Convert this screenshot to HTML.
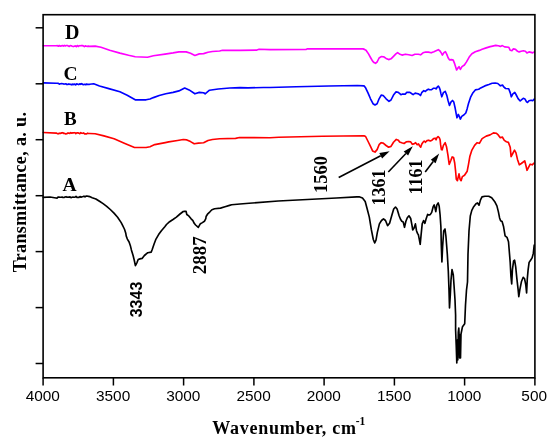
<!DOCTYPE html>
<html><head><meta charset="utf-8"><style>
html,body{margin:0;padding:0;background:#fff;}
svg{display:block;}
.tl{font-family:"Liberation Sans",Arial,sans-serif;font-size:15px;text-anchor:middle;fill:#000;font-size:15.4px;}
.ax{font-family:"Liberation Serif","Times New Roman",serif;font-weight:bold;font-size:18px;letter-spacing:0.72px;fill:#000;}
.sup{font-size:11.5px;letter-spacing:0;}
.ay{font-family:"Liberation Serif","Times New Roman",serif;font-weight:bold;font-size:18px;letter-spacing:0.37px;fill:#000;}
.cl{font-family:"Liberation Serif","Times New Roman",serif;font-weight:bold;font-size:20px;fill:#000;}
.pl{font-family:"Liberation Serif","Times New Roman",serif;font-weight:bold;font-size:18.5px;fill:#000;}
.pa{font-family:"Liberation Sans",Arial,sans-serif;font-weight:bold;font-size:16px;fill:#000;}
</style></head><body>
<svg width="550" height="442" viewBox="0 0 550 442">
<rect x="0" y="0" width="550" height="442" fill="#fff"/>
<polyline points="43.3,45.7 56.3,45.8 57.3,45.6 58.3,46.2 59.3,45.5 60.3,46.1 61.3,45.9 62.3,45.5 63.3,46.1 64.3,45.4 65.3,46.0 66.3,45.5 67.3,45.5 68.3,46.0 69.3,46.5 70.3,45.6 71.3,45.7 72.3,46.2 73.3,46.6 74.3,46.2 75.3,45.9 76.3,46.7 77.3,45.5 78.3,46.5 79.3,45.7 80.3,45.8 81.3,45.6 82.3,45.6 83.3,45.9 84.3,46.6 85.3,45.8 86.3,46.3 87.3,46.4 88.3,46.1 89.3,46.4 95.2,46.1 101.0,47.3 109.7,50.2 119.9,53.1 128.6,55.3 135.2,56.7 147.5,57.2 153.4,55.7 165.0,54.1 173.1,52.9 178.9,51.9 186.2,51.9 190.5,53.3 194.9,55.5 199.3,53.9 203.6,53.6 208.0,52.2 212.4,51.5 219.6,51.0 222.5,50.3 240.0,50.3 256.9,50.1 259.1,49.2 270.0,49.6 306.0,49.5 307.1,48.9 363.0,48.9 364.5,49.4 366.0,50.2 368.5,53.9 370.5,57.5 372.6,61.2 374.0,62.6 375.5,63.3 377.1,62.0 379.1,58.0 381.2,56.6 383.6,56.7 386.1,58.4 388.6,59.6 391.0,58.8 393.5,56.3 395.9,53.9 397.6,52.6 400.0,54.3 402.0,55.1 405.4,54.2 408.8,54.8 412.1,55.5 414.9,54.2 418.3,54.2 420.6,54.8 423.0,52.8 425.7,52.0 428.4,52.1 431.2,52.8 433.9,51.7 436.6,50.4 438.3,49.7 440.0,51.0 441.4,53.1 442.4,55.1 444.1,52.4 445.4,51.7 446.8,54.4 448.1,57.8 449.5,59.9 451.5,59.6 453.2,60.1 454.7,63.9 455.6,66.7 456.6,70.0 457.9,68.0 459.0,66.7 460.4,69.4 462.0,66.7 464.4,65.0 466.5,61.9 469.2,57.1 471.9,53.8 475.3,51.7 479.4,50.4 482.1,49.3 486.2,47.9 490.2,46.6 492.6,46.1 495.7,45.4 498.3,45.8 500.4,46.4 502.3,45.6 504.6,46.9 508.7,47.2 510.3,50.3 511.9,50.6 513.4,48.9 515.5,49.3 517.6,51.3 519.1,51.9 521.2,51.3 523.3,50.8 525.4,51.3 526.9,52.9 529.0,51.9 531.1,52.4 532.7,52.9 534.2,51.9" fill="none" stroke="#ff00ff" stroke-width="1.65" stroke-linejoin="round" stroke-linecap="round"/>
<polyline points="43.3,82.9 56.3,83.2 57.3,83.2 58.3,83.4 59.3,84.1 60.3,83.8 61.8,83.6 62.8,83.7 63.8,84.1 64.8,84.0 65.8,83.8 66.8,84.5 67.8,84.4 68.8,83.9 69.8,84.3 70.8,84.3 71.8,84.8 72.7,84.0 73.7,84.6 74.7,84.1 75.7,84.9 76.7,83.8 77.7,84.2 78.7,84.6 79.7,83.8 80.7,84.3 81.7,83.7 82.7,84.5 83.7,84.6 84.7,84.3 85.7,84.7 86.7,84.0 87.7,84.5 88.7,84.3 89.7,84.3 93.7,83.8 99.5,86.0 109.7,88.9 119.9,91.8 127.2,95.2 135.2,99.8 146.1,99.8 150.0,99.0 153.4,97.6 159.2,95.5 165.8,93.8 173.1,92.4 178.9,90.9 184.7,88.0 189.1,89.9 194.9,93.8 199.3,92.4 203.6,92.8 205.1,93.8 209.5,90.2 218.2,89.0 229.8,88.0 240.0,87.6 248.2,87.9 263.5,87.5 270.0,87.5 296.2,86.8 328.9,86.0 357.3,85.5 364.0,85.9 365.6,87.8 368.1,93.1 370.5,98.8 373.0,103.7 375.0,105.0 377.1,103.7 379.1,98.8 381.2,95.1 383.2,95.5 386.1,98.8 389.0,101.3 391.0,100.0 393.5,95.1 395.9,91.9 398.0,92.3 399.2,93.1 400.9,94.7 402.5,94.1 405.4,94.1 406.6,92.4 409.9,92.4 411.5,93.5 413.1,94.6 415.2,93.1 416.8,93.5 418.5,93.9 419.7,94.7 420.5,95.5 421.7,92.7 423.8,90.6 425.4,91.5 426.6,90.2 428.3,89.2 429.9,89.8 431.6,89.7 433.6,88.2 435.2,88.2 436.1,89.0 437.3,87.0 438.3,86.1 439.3,87.4 440.1,89.8 441.0,93.9 441.8,96.8 443.4,92.6 445.2,91.3 446.8,95.4 448.1,100.8 449.5,105.5 450.9,102.1 452.5,100.5 453.8,102.1 455.2,108.3 456.3,114.4 457.0,117.8 458.3,114.4 459.0,115.7 460.4,119.1 461.7,116.4 463.8,115.0 465.8,113.0 467.1,108.9 468.5,103.5 470.5,97.4 472.6,93.3 475.3,89.9 478.7,89.3 480.7,87.9 484.8,85.9 488.9,84.5 492.1,83.3 495.2,83.0 497.8,83.5 500.4,85.8 502.5,85.1 504.0,87.2 505.6,88.5 508.7,88.7 510.3,92.9 511.3,96.8 512.9,93.9 514.8,92.4 516.0,94.5 518.1,98.6 520.2,101.0 521.7,99.7 523.3,98.3 524.9,98.9 526.4,101.7 527.5,102.5 529.0,100.7 531.1,100.2 532.7,100.7 534.2,99.1" fill="none" stroke="#0000ff" stroke-width="1.65" stroke-linejoin="round" stroke-linecap="round"/>
<polyline points="43.3,132.5 56.3,133.1 57.3,133.6 58.3,133.8 59.3,133.2 60.3,133.4 61.8,132.9 62.8,132.7 63.8,133.5 64.8,133.4 65.8,133.9 66.8,133.7 67.8,133.0 68.8,133.1 69.8,133.5 70.8,132.6 71.8,133.2 72.8,132.8 73.8,132.8 74.8,132.7 75.8,133.6 76.8,132.8 77.8,132.9 78.8,133.1 79.8,133.7 80.8,132.7 81.8,133.2 82.8,133.3 83.6,132.9 84.6,133.8 85.6,133.8 86.6,133.9 87.6,133.2 88.6,133.5 89.6,133.5 95.2,133.7 103.9,135.9 114.1,138.8 124.3,143.2 134.5,147.5 146.1,147.5 150.0,146.7 154.8,144.6 165.3,142.6 168.7,141.9 177.5,140.5 183.3,139.5 186.9,139.9 190.5,141.6 194.2,143.8 198.5,143.1 203.6,142.8 208.0,140.5 212.4,139.5 219.6,138.7 235.6,138.4 239.5,137.5 270.0,137.7 278.7,137.3 322.4,136.2 364.0,135.7 365.6,136.5 368.1,141.5 370.5,146.4 372.6,150.9 375.0,152.1 377.1,149.6 379.1,144.7 381.2,142.7 383.2,143.1 386.1,145.5 388.6,147.2 391.0,146.4 393.5,142.3 396.3,139.4 398.4,140.2 399.6,141.9 401.7,142.7 404.1,143.5 406.2,141.9 408.6,141.5 410.7,141.9 412.3,144.3 414.0,143.9 415.6,142.7 417.2,144.7 418.5,143.9 419.7,146.0 420.7,147.2 421.7,144.3 423.0,142.3 424.2,141.0 425.4,142.3 427.0,140.6 428.7,140.2 430.3,141.0 432.0,140.2 433.6,138.6 435.2,138.2 436.1,139.8 436.9,137.8 438.1,136.5 439.3,137.8 440.1,139.8 440.6,144.7 441.4,149.6 442.2,149.8 443.4,145.4 445.2,142.7 446.5,146.7 447.9,154.9 449.2,164.4 450.9,160.3 452.2,156.9 453.6,157.6 454.7,163.0 455.6,171.2 456.3,179.3 457.4,180.7 458.3,176.6 459.0,173.9 460.1,179.3 461.1,180.7 462.4,176.6 464.5,175.3 467.2,171.2 468.5,164.4 469.9,156.2 471.9,150.1 474.6,145.4 477.0,142.7 479.4,143.3 482.1,138.6 486.2,136.1 490.1,134.9 493.5,132.9 496.2,133.2 498.2,134.9 500.3,137.7 502.3,137.0 504.3,140.4 506.4,141.7 508.4,142.4 510.2,147.2 511.1,156.7 512.5,154.0 514.5,150.2 515.9,152.6 517.5,159.4 519.3,164.8 521.3,163.5 524.7,160.8 526.1,166.2 527.0,170.3 528.8,166.9 530.2,164.2 532.2,164.8 534.0,163.2" fill="none" stroke="#ff0000" stroke-width="1.65" stroke-linejoin="round" stroke-linecap="round"/>
<polyline points="43.3,197.4 50.0,197.0 56.0,198.0 57.0,198.1 58.0,197.1 59.0,197.1 60.0,197.2 61.0,197.2 62.0,197.1 63.0,197.4 64.0,197.5 65.0,197.0 66.0,196.7 67.0,197.2 68.0,197.1 69.0,197.3 70.0,196.8 71.0,197.7 72.0,197.3 73.0,197.1 74.0,197.2 75.0,197.2 76.0,196.4 77.0,197.5 78.0,197.3 79.0,197.4 80.0,196.5 81.0,197.2 82.0,196.7 83.0,196.6 84.0,196.2 85.0,196.9 86.0,196.1 87.0,196.1 88.0,196.3 88.6,196.3 89.6,196.6 92.2,197.7 95.9,199.0 99.5,201.3 103.1,203.6 106.7,206.3 110.3,209.5 114.0,213.1 117.6,217.2 121.2,222.6 122.6,225.3 123.9,228.0 124.6,229.5 125.7,232.9 126.3,236.3 127.4,239.1 129.1,242.0 130.3,245.4 131.4,249.9 133.1,255.5 134.2,260.0 135.4,265.7 137.1,262.3 138.2,259.5 139.9,258.9 142.1,258.4 144.4,255.5 147.8,252.7 151.2,252.1 152.3,249.3 154.0,244.2 155.7,239.7 158.6,234.6 161.4,230.7 164.8,226.7 166.5,224.5 169.6,221.7 173.0,219.5 176.4,217.1 180.0,214.0 183.2,211.5 184.4,211.3 186.1,211.4 186.8,214.5 188.8,215.9 190.9,218.6 192.9,220.6 194.2,223.3 195.6,225.0 198.3,227.4 200.4,223.7 202.4,222.6 204.4,221.3 205.8,218.6 206.1,216.5 207.8,213.8 209.9,211.8 211.9,209.7 214.6,208.7 220.5,208.1 225.0,206.8 229.5,205.4 231.6,204.7 240.0,204.0 249.1,203.3 278.2,201.0 307.3,199.5 336.4,198.0 356.7,196.9 359.1,196.8 362.5,198.1 365.2,201.5 367.2,209.0 369.3,217.1 371.3,229.4 373.3,239.5 374.7,242.9 376.0,240.2 377.4,232.1 379.4,223.9 381.5,220.5 383.5,218.8 385.5,220.5 387.6,225.6 389.6,223.3 391.7,215.8 393.7,209.0 395.5,207.0 397.1,209.0 399.1,215.8 400.5,219.2 401.8,221.2 403.2,221.9 404.5,227.3 405.9,221.2 407.3,217.8 409.0,215.8 410.7,218.5 412.0,225.3 412.7,230.0 414.1,228.0 415.4,223.9 416.5,230.7 417.5,233.4 418.4,234.8 419.2,238.9 420.2,244.3 421.1,234.8 422.2,223.9 423.6,220.5 424.9,223.3 426.0,219.2 427.6,214.4 429.0,215.1 430.4,214.4 431.7,212.4 433.1,207.0 434.2,204.9 435.1,208.3 435.8,211.7 436.9,204.9 438.2,202.9 439.2,206.3 440.1,215.0 440.9,227.0 441.3,245.0 441.9,262.0 442.6,247.0 443.7,231.0 445.0,229.0 445.9,236.0 447.3,254.0 448.3,271.0 449.0,290.0 449.5,308.0 450.3,295.0 451.0,280.0 452.0,269.5 453.3,275.0 454.0,285.0 455.0,300.0 455.6,315.0 455.6,330.0 456.2,345.0 456.8,363.0 457.3,340.0 457.8,360.0 458.3,332.0 458.8,328.0 459.3,340.0 459.6,358.0 460.0,335.0 460.5,358.0 461.0,334.0 462.5,326.7 464.7,323.8 465.5,305.0 466.5,290.0 467.5,282.0 468.0,254.0 469.0,231.0 470.3,216.0 471.8,210.4 473.7,206.7 476.0,203.7 477.5,202.9 479.0,205.2 480.5,199.9 482.0,196.9 484.9,196.2 488.7,196.2 491.7,197.7 494.6,201.4 496.9,205.9 498.4,211.9 499.6,217.9 500.6,220.8 502.1,221.6 503.6,226.8 505.1,235.8 507.0,237.3 508.5,241.7 509.1,249.0 510.2,262.4 510.9,275.8 511.7,284.0 512.4,269.9 513.6,260.9 514.6,260.2 515.7,266.9 516.9,278.8 518.1,289.3 518.8,296.7 519.9,289.3 521.4,281.8 523.2,277.3 524.6,278.8 525.8,284.8 526.6,293.0 527.3,278.8 528.1,269.9 529.1,262.4 530.6,260.2 532.1,257.9 533.3,253.4 534.2,245.0" fill="none" stroke="#000000" stroke-width="1.65" stroke-linejoin="round" stroke-linecap="round"/>
<rect x="43.1" y="14.7" width="491.8" height="363.1" fill="none" stroke="#000" stroke-width="1.6"/>
<line x1="35.6" y1="27.8" x2="43.1" y2="27.8" stroke="#000" stroke-width="1.5"/>
<line x1="35.6" y1="83.8" x2="43.1" y2="83.8" stroke="#000" stroke-width="1.5"/>
<line x1="35.6" y1="139.7" x2="43.1" y2="139.7" stroke="#000" stroke-width="1.5"/>
<line x1="35.6" y1="195.7" x2="43.1" y2="195.7" stroke="#000" stroke-width="1.5"/>
<line x1="35.6" y1="251.6" x2="43.1" y2="251.6" stroke="#000" stroke-width="1.5"/>
<line x1="35.6" y1="307.6" x2="43.1" y2="307.6" stroke="#000" stroke-width="1.5"/>
<line x1="35.6" y1="363.5" x2="43.1" y2="363.5" stroke="#000" stroke-width="1.5"/>
<line x1="43.1" y1="377.8" x2="43.1" y2="385.5" stroke="#000" stroke-width="1.5"/>
<text x="42.8" y="401.1" class="tl">4000</text>
<line x1="113.4" y1="377.8" x2="113.4" y2="385.5" stroke="#000" stroke-width="1.5"/>
<text x="113.1" y="401.1" class="tl">3500</text>
<line x1="183.6" y1="377.8" x2="183.6" y2="385.5" stroke="#000" stroke-width="1.5"/>
<text x="183.3" y="401.1" class="tl">3000</text>
<line x1="253.9" y1="377.8" x2="253.9" y2="385.5" stroke="#000" stroke-width="1.5"/>
<text x="253.6" y="401.1" class="tl">2500</text>
<line x1="324.1" y1="377.8" x2="324.1" y2="385.5" stroke="#000" stroke-width="1.5"/>
<text x="323.8" y="401.1" class="tl">2000</text>
<line x1="394.4" y1="377.8" x2="394.4" y2="385.5" stroke="#000" stroke-width="1.5"/>
<text x="394.1" y="401.1" class="tl">1500</text>
<line x1="464.6" y1="377.8" x2="464.6" y2="385.5" stroke="#000" stroke-width="1.5"/>
<text x="464.3" y="401.1" class="tl">1000</text>
<line x1="534.9" y1="377.8" x2="534.9" y2="385.5" stroke="#000" stroke-width="1.5"/>
<text x="534.2" y="401.1" class="tl">500</text>
<text x="212.3" y="433.6" class="ax">Wavenumber, cm<tspan class="sup" dx="-1" dy="-9">-1</tspan></text>
<text transform="translate(25.6,272.3) rotate(-90)" class="ay">Transmittance, a. u.</text>
<text x="65" y="38.6" class="cl" style="font-size:20px">D</text>
<text x="63.4" y="79.6" class="cl" style="font-size:19.5px">C</text>
<text x="63.9" y="125.2" class="cl" style="font-size:19px">B</text>
<text x="62.6" y="190.6" class="cl" style="font-size:19.5px">A</text>
<text transform="translate(141.9,317.3) rotate(-90)" class="pa">3343</text>
<text transform="translate(205.6,274.2) rotate(-90)" class="pl" style="font-size:19px">2887</text>
<text transform="translate(327.2,192.9) rotate(-90)" class="pl" style="font-size:18.5px">1560</text>
<text transform="translate(385.4,205.4) rotate(-90)" class="pl" style="font-size:18px">1361</text>
<text transform="translate(421.7,194.6) rotate(-90)" class="pl" style="font-size:18px">1161</text>
<line x1="338.7" y1="177.5" x2="380.7" y2="155.8" stroke="#000" stroke-width="1.6"/><polygon points="389.6,151.2 382.1,158.5 379.3,153.1" fill="#000"/>
<line x1="388.3" y1="172" x2="405.9" y2="153.5" stroke="#000" stroke-width="1.6"/><polygon points="412.8,146.3 408.1,155.6 403.7,151.5" fill="#000"/>
<line x1="425.2" y1="172" x2="433.2" y2="161.5" stroke="#000" stroke-width="1.6"/><polygon points="439.2,153.5 435.6,163.3 430.8,159.7" fill="#000"/>
</svg>
</body></html>
